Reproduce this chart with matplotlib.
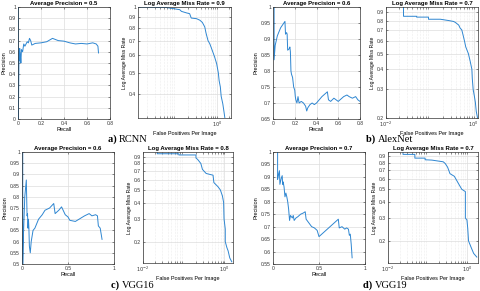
import numpy as np
import matplotlib
matplotlib.use('Agg')
import matplotlib.pyplot as plt
from matplotlib.ticker import FixedLocator, NullFormatter, LogLocator

# ── Data ─────────────────────────────────────────────────────────────────────
# precision / recall curves
rcnn_recall = [0, 0.003, 0.003, 0.008, 0.01, 0.012, 0.015, 0.018, 0.02, 0.025, 0.03, 0.04,
               0.05, 0.06, 0.065, 0.08, 0.09, 0.1, 0.11, 0.12, 0.13, 0.15, 0.2, 0.25, 0.3,
               0.35, 0.4, 0.45, 0.5, 0.55, 0.6, 0.65, 0.68, 0.695, 0.70]
rcnn_precision = [1, 1, 0.0, 0.5, 0.6, 0.52, 0.63, 0.55, 0.58, 0.5, 0.62, 0.6,
                  0.67, 0.65, 0.66, 0.69, 0.68, 0.72, 0.7, 0.66, 0.665, 0.675, 0.68, 0.69, 0.72,
                  0.70, 0.695, 0.68, 0.67, 0.675, 0.67, 0.68, 0.67, 0.65, 0.59]

alex_recall = [0.01, 0.01, 0.02, 0.04, 0.07, 0.11, 0.115, 0.125, 0.13, 0.135, 0.15, 0.155,
               0.16, 0.165, 0.17, 0.18, 0.19, 0.2, 0.205, 0.21, 0.22, 0.23, 0.24, 0.26, 0.28,
               0.3, 0.31, 0.32, 0.34, 0.36, 0.38, 0.4, 0.45, 0.5, 0.51, 0.53, 0.56, 0.6, 0.65,
               0.68, 0.7, 0.73, 0.76, 0.78, 0.8]
alex_precision = [1, 0.835, 0.88, 0.91, 0.935, 0.955, 0.915, 0.92, 0.915, 0.865, 0.87, 0.875,
                  0.86, 0.80, 0.79, 0.78, 0.75, 0.74, 0.72, 0.71, 0.70, 0.72, 0.70, 0.705, 0.70,
                  0.69, 0.675, 0.685, 0.695, 0.70, 0.695, 0.70, 0.72, 0.735, 0.71, 0.705, 0.715,
                  0.705, 0.72, 0.725, 0.72, 0.715, 0.72, 0.71, 0.705]

vgg16_recall = [0.008, 0.008, 0.015, 0.03, 0.047, 0.055, 0.06, 0.065, 0.07, 0.075, 0.08, 0.09,
                0.1, 0.12, 0.14, 0.18, 0.22, 0.25, 0.3, 0.345, 0.36, 0.4, 0.43, 0.47, 0.5,
                0.52, 0.58, 0.62, 0.68, 0.73, 0.76, 0.8, 0.82, 0.83, 0.85, 0.87]
vgg16_precision = [1, 0.5, 0.62, 0.8, 0.875, 0.715, 0.725, 0.66, 0.7, 0.66, 0.58, 0.55,
                   0.6, 0.65, 0.66, 0.7, 0.72, 0.74, 0.75, 0.77, 0.725, 0.74, 0.755, 0.72, 0.71,
                   0.695, 0.69, 0.7, 0.715, 0.725, 0.715, 0.72, 0.715, 0.67, 0.66, 0.61]

vgg19_recall = [0.05, 0.05, 0.055, 0.06, 0.07, 0.075, 0.09, 0.1, 0.105, 0.11, 0.12, 0.13,
                0.14, 0.15, 0.16, 0.17, 0.18, 0.19, 0.21, 0.22, 0.23, 0.25, 0.27, 0.3, 0.33,
                0.35, 0.36, 0.38, 0.4, 0.42, 0.45, 0.48, 0.5, 0.71, 0.72, 0.75, 0.78, 0.8,
                0.82, 0.83, 0.84, 0.85, 0.86]
vgg19_precision = [1, 0.89, 0.9, 0.91, 0.925, 0.87, 0.895, 0.905, 0.87, 0.88, 0.86, 0.82,
                   0.835, 0.82, 0.80, 0.77, 0.725, 0.745, 0.735, 0.745, 0.725, 0.735, 0.74, 0.75,
                   0.755, 0.76, 0.73, 0.72, 0.71, 0.70, 0.695, 0.685, 0.66, 0.73, 0.695, 0.70,
                   0.69, 0.695, 0.69, 0.665, 0.67, 0.63, 0.575]

# miss rate vs false positives per image
rcnn_fppi = [0.0117, 0.0575, 0.123, 0.135, 0.178, 0.214, 0.234, 0.316, 0.38, 0.437, 0.501,
             0.537, 0.603, 0.661, 0.724, 0.871, 0.977, 1.072, 1.122, 1.202, 1.259, 1.38,
             1.479, 1.549]
rcnn_miss = [1.0, 0.995, 0.972, 0.955, 0.94, 0.932, 0.89, 0.884, 0.87, 0.85, 0.81,
             0.76, 0.70, 0.68, 0.65, 0.59, 0.55, 0.50, 0.46, 0.43, 0.39, 0.36,
             0.33, 0.31]

alex_fppi = [0.0251, 0.0251, 0.0501, 0.0501, 0.0933, 0.0933, 0.174, 0.269, 0.347, 0.38,
             0.457, 0.49, 0.537, 0.575, 0.617, 0.661, 0.759, 0.832, 0.912, 0.933, 0.977,
             1.047, 1.096, 1.148, 1.23]
alex_miss = [0.97, 0.85, 0.85, 0.84, 0.84, 0.815, 0.815, 0.80, 0.79, 0.78,
             0.75, 0.72, 0.70, 0.65, 0.60, 0.55, 0.50, 0.45, 0.40, 0.35, 0.30,
             0.27, 0.25, 0.22, 0.20]

vgg16_fppi = [0.0224, 0.0224, 0.0759, 0.0759, 0.2, 0.2, 0.219, 0.263, 0.288, 0.355, 0.427,
              0.525, 0.55, 0.692, 0.794, 0.891, 0.955, 0.977, 1.047, 1.047, 1.148, 1.23,
              1.349, 1.514]
vgg16_miss = [0.975, 0.95, 0.95, 0.93, 0.93, 0.88, 0.86, 0.80, 0.72, 0.67, 0.66,
              0.65, 0.57, 0.53, 0.50, 0.45, 0.40, 0.30, 0.25, 0.20, 0.18, 0.17,
              0.15, 0.14]

vgg19_fppi = [0.024, 0.024, 0.0479, 0.0479, 0.0871, 0.0871, 0.129, 0.251, 0.282, 0.324,
              0.372, 0.479, 0.525, 0.617, 0.741, 0.912, 0.912, 1.0, 1.047, 1.096, 1.259,
              1.479, 1.778]
vgg19_miss = [0.96, 0.93, 0.93, 0.87, 0.87, 0.845, 0.84, 0.815, 0.79, 0.74,
              0.66, 0.63, 0.60, 0.55, 0.50, 0.48, 0.30, 0.29, 0.25, 0.20, 0.18,
              0.16, 0.15]

captions = [('a)', 'RCNN'), ('b)', 'AlexNet'), ('c)', 'VGG16'), ('d)', 'VGG19')]
ap_titles = ['Average Precision = 0.5', 'Average Precision = 0.6',
             'Average Precision = 0.6', 'Average Precision = 0.7']
mr_titles = ['Log Average Miss Rate = 0.9', 'Log Average Miss Rate = 0.7',
             'Log Average Miss Rate = 0.8', 'Log Average Miss Rate = 0.7']
# ─────────────────────────────────────────────────────────────────────────────

BLUE = '#2E86D1'
W, H = 480, 291
SANS = 'Liberation Sans'

fig = plt.figure(figsize=(W / 100, H / 100), dpi=100)
fig.patch.set_facecolor('white')


def px_rect(x0, y0, x1, y1):
    return [x0 / W, 1 - y1 / H, (x1 - x0) / W, (y1 - y0) / H]


def style(ax):
    for s in ax.spines.values():
        s.set_linewidth(0.5)
        s.set_color('#333333')
    ax.tick_params(which='both', direction='in', length=1.5, width=0.4,
                   labelsize=3.6, pad=1.5, colors='#333333', top=True, right=True)
    ax.set_axisbelow(True)


def pr_panel(rect, recall, precision, title, xlim, xticks, ylim, yticks):
    ax = fig.add_axes(rect)
    style(ax)
    ax.plot(recall, precision, color=BLUE, lw=0.7)
    ax.set_xlim(*xlim)
    ax.set_ylim(*ylim)
    ax.set_xticks(xticks)
    ax.set_yticks(yticks)
    ax.set_xticklabels([f'{v:g}' for v in xticks], family=SANS)
    ax.set_yticklabels([f'{v:g}' for v in yticks], family=SANS)
    ax.grid(True, color='#DDDDDD', lw=0.5)
    ax.set_title(title, fontsize=4.3, fontweight='bold', family=SANS, pad=1.5)
    ax.set_xlabel('Recall', fontsize=4, family=SANS, labelpad=1)
    ax.set_ylabel('Precision', fontsize=4, family=SANS, labelpad=1.5)
    return ax


def mr_panel(rect, fppi, miss, title, xlim, ylim, yticks):
    ax = fig.add_axes(rect)
    style(ax)
    ax.plot(fppi, miss, color=BLUE, lw=0.7)
    ax.set_xscale('log')
    ax.set_yscale('log')
    ax.set_xlim(*xlim)
    ax.set_ylim(*ylim)
    ax.xaxis.set_major_locator(FixedLocator([0.01, 1]))
    ax.set_xticks([v for v in [0.01, 1] if xlim[0] <= v <= xlim[1]])
    ax.set_xticklabels([r'$10^{-2}$' if v < 0.1 else r'$10^{0}$'
                        for v in ax.get_xticks()], family=SANS)
    ax.xaxis.set_minor_locator(LogLocator(base=10, subs=np.arange(2, 10)))
    ax.xaxis.set_minor_formatter(NullFormatter())
    ax.yaxis.set_major_locator(FixedLocator(yticks))
    ax.set_yticklabels([f'{v:g}' for v in yticks], family=SANS)
    ax.yaxis.set_minor_locator(FixedLocator([]))
    ax.yaxis.set_minor_formatter(NullFormatter())
    ax.grid(True, which='major', color='#DDDDDD', lw=0.5)
    ax.grid(True, which='minor', axis='x', color='#DDDDDD', lw=0.4, ls=':')
    ax.set_title(title, fontsize=4.3, fontweight='bold', family=SANS, pad=1.5)
    ax.set_xlabel('False Positives Per Image', fontsize=4, family=SANS, labelpad=1)
    ax.set_ylabel('Log Average Miss Rate', fontsize=3.6, family=SANS, labelpad=1.5)
    return ax


tenths = [0.2, 0.3, 0.4, 0.5, 0.6, 0.7, 0.8, 0.9]

# a) RCNN
pr_panel(px_rect(18, 7, 110, 119), rcnn_recall, rcnn_precision, ap_titles[0],
         (0, 0.8), [0, 0.2, 0.4, 0.6, 0.8], (0, 1), list(np.round(np.arange(0, 1.01, 0.1), 1)))
mr_panel(px_rect(138, 7, 231, 118), rcnn_fppi, rcnn_miss, mr_titles[0],
         (10 ** -1.93, 10 ** 0.34), (0.31, 1.0), [0.4, 0.5, 0.6, 0.7, 0.8, 0.9, 1.0])

# b) AlexNet
pr_panel(px_rect(273, 7, 360, 119), alex_recall, alex_precision, ap_titles[1],
         (0, 0.8), [0, 0.2, 0.4, 0.6, 0.8], (0.65, 1),
         [0.65, 0.7, 0.75, 0.8, 0.85, 0.9, 0.95, 1])
mr_panel(px_rect(386, 7, 478, 118), alex_fppi, alex_miss, mr_titles[1],
         (0.01, 10 ** 0.1), (0.2, 0.97), tenths)

# c) VGG16
pr_panel(px_rect(22, 152, 114, 264), vgg16_recall, vgg16_precision, ap_titles[2],
         (0, 1), [0, 0.5, 1], (0.5, 1),
         [0.5, 0.55, 0.6, 0.65, 0.7, 0.75, 0.8, 0.85, 0.9, 0.95, 1])
mr_panel(px_rect(143, 152, 233, 263), vgg16_fppi, vgg16_miss, mr_titles[2],
         (0.01, 10 ** 0.21), (0.137, 0.98), tenths)

# d) VGG19
pr_panel(px_rect(273, 152, 365, 264), vgg19_recall, vgg19_precision, ap_titles[3],
         (0, 1), [0, 0.5, 1], (0.55, 1),
         [0.55, 0.6, 0.65, 0.7, 0.75, 0.8, 0.85, 0.9, 0.95, 1])
mr_panel(px_rect(388, 152, 478, 263), vgg19_fppi, vgg19_miss, mr_titles[3],
         (0.01, 10 ** 0.28), (0.135, 0.97), tenths)

# sub-figure captions
cap_pos = [(119, 139), (378, 139), (122, 285), (375, 285)]
for (letter, name), (cx, cy) in zip(captions, cap_pos):
    fig.text(cx / W, 1 - cy / H, letter + ' ', ha='right', va='center',
             fontsize=7.5, fontweight='bold', family='Liberation Serif')
    fig.text(cx / W, 1 - cy / H, name, ha='left', va='center',
             fontsize=7.5, family='Liberation Serif')

fig.savefig('out.png', dpi=100, facecolor='white')
